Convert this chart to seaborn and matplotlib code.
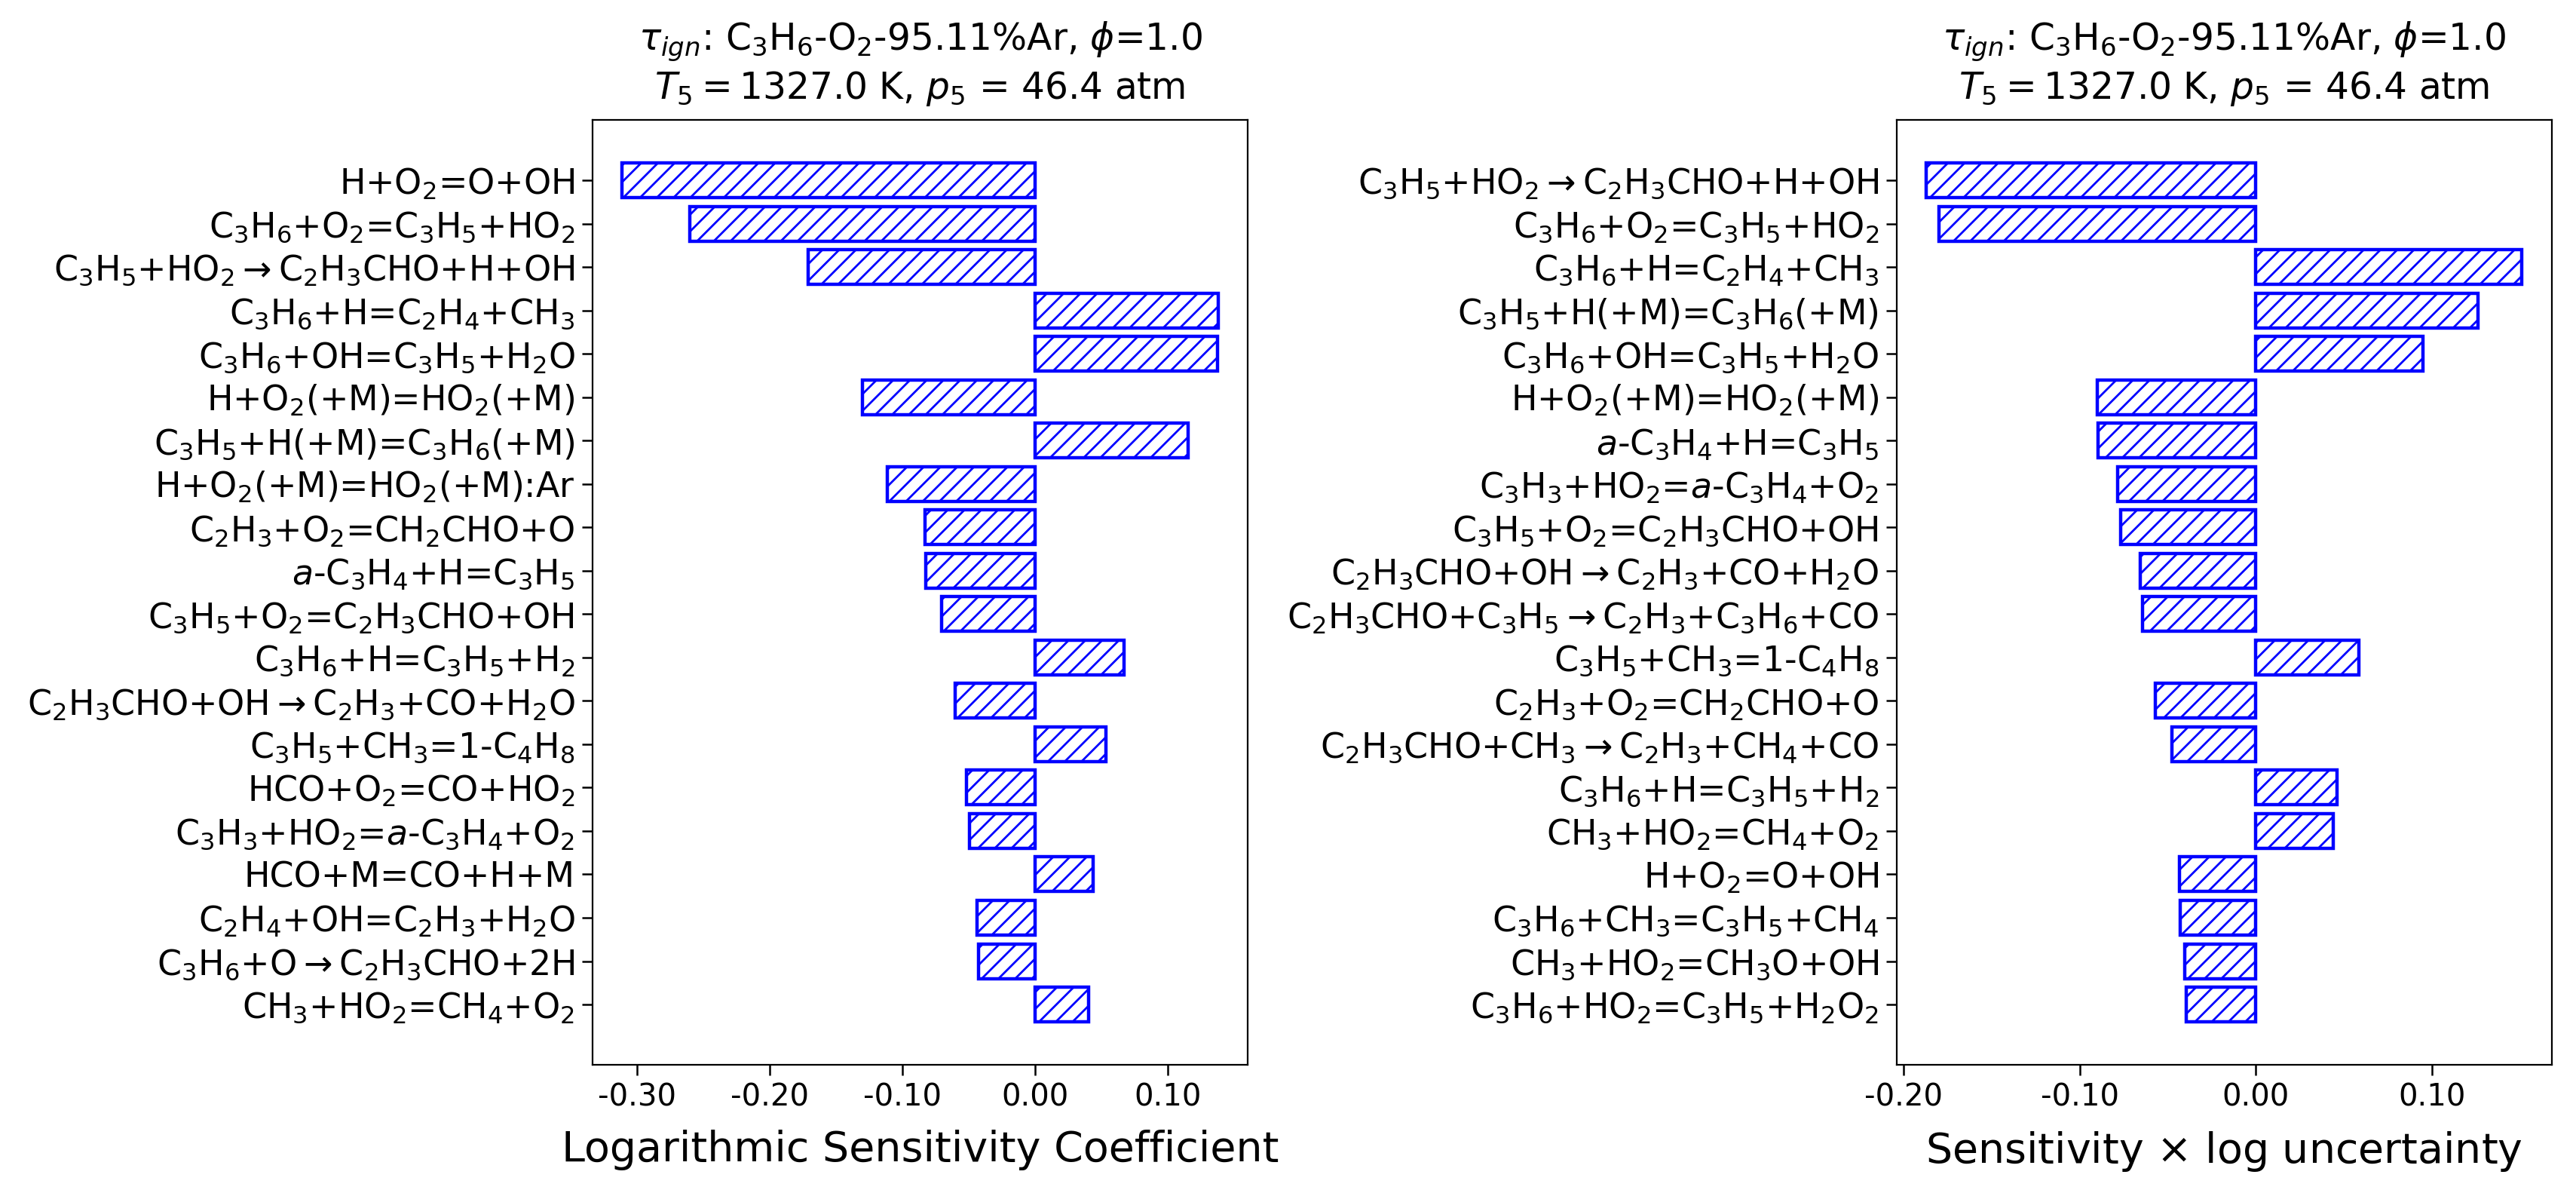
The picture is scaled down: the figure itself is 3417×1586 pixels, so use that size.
import numpy as np
import matplotlib
matplotlib.use("Agg")
import matplotlib.pyplot as plt
import seaborn as sns
from matplotlib.ticker import MultipleLocator, FormatStrFormatter

# Reacciones y coeficientes (panel izquierdo)
left_labels = [
    "H+O$_2$=O+OH",
    "C$_3$H$_6$+O$_2$=C$_3$H$_5$+HO$_2$",
    "C$_3$H$_5$+HO$_2$$\\rightarrow$C$_2$H$_3$CHO+H+OH",
    "C$_3$H$_6$+H=C$_2$H$_4$+CH$_3$",
    "C$_3$H$_6$+OH=C$_3$H$_5$+H$_2$O",
    "H+O$_2$(+M)=HO$_2$(+M)",
    "C$_3$H$_5$+H(+M)=C$_3$H$_6$(+M)",
    "H+O$_2$(+M)=HO$_2$(+M):Ar",
    "C$_2$H$_3$+O$_2$=CH$_2$CHO+O",
    "$a$-C$_3$H$_4$+H=C$_3$H$_5$",
    "C$_3$H$_5$+O$_2$=C$_2$H$_3$CHO+OH",
    "C$_3$H$_6$+H=C$_3$H$_5$+H$_2$",
    "C$_2$H$_3$CHO+OH$\\rightarrow$C$_2$H$_3$+CO+H$_2$O",
    "C$_3$H$_5$+CH$_3$=1-C$_4$H$_8$",
    "HCO+O$_2$=CO+HO$_2$",
    "C$_3$H$_3$+HO$_2$=$a$-C$_3$H$_4$+O$_2$",
    "HCO+M=CO+H+M",
    "C$_2$H$_4$+OH=C$_2$H$_3$+H$_2$O",
    "C$_3$H$_6$+O$\\rightarrow$C$_2$H$_3$CHO+2H",
    "CH$_3$+HO$_2$=CH$_4$+O$_2$",
]
left_values = [-0.311, -0.260, -0.171, 0.138, 0.1375, -0.130, 0.1153, -0.111,
               -0.0827, -0.0821, -0.0704, 0.0671, -0.0599, 0.0534, -0.0515,
               -0.0492, 0.0440, -0.0436, -0.0423, 0.0404]

# Panel derecho: sensibilidad x log incertidumbre
right_labels = [
    "C$_3$H$_5$+HO$_2$$\\rightarrow$C$_2$H$_3$CHO+H+OH",
    "C$_3$H$_6$+O$_2$=C$_3$H$_5$+HO$_2$",
    "C$_3$H$_6$+H=C$_2$H$_4$+CH$_3$",
    "C$_3$H$_5$+H(+M)=C$_3$H$_6$(+M)",
    "C$_3$H$_6$+OH=C$_3$H$_5$+H$_2$O",
    "H+O$_2$(+M)=HO$_2$(+M)",
    "$a$-C$_3$H$_4$+H=C$_3$H$_5$",
    "C$_3$H$_3$+HO$_2$=$a$-C$_3$H$_4$+O$_2$",
    "C$_3$H$_5$+O$_2$=C$_2$H$_3$CHO+OH",
    "C$_2$H$_3$CHO+OH$\\rightarrow$C$_2$H$_3$+CO+H$_2$O",
    "C$_2$H$_3$CHO+C$_3$H$_5$$\\rightarrow$C$_2$H$_3$+C$_3$H$_6$+CO",
    "C$_3$H$_5$+CH$_3$=1-C$_4$H$_8$",
    "C$_2$H$_3$+O$_2$=CH$_2$CHO+O",
    "C$_2$H$_3$CHO+CH$_3$$\\rightarrow$C$_2$H$_3$+CH$_4$+CO",
    "C$_3$H$_6$+H=C$_3$H$_5$+H$_2$",
    "CH$_3$+HO$_2$=CH$_4$+O$_2$",
    "H+O$_2$=O+OH",
    "C$_3$H$_6$+CH$_3$=C$_3$H$_5$+CH$_4$",
    "CH$_3$+HO$_2$=CH$_3$O+OH",
    "C$_3$H$_6$+HO$_2$=C$_3$H$_5$+H$_2$O$_2$",
]
right_values = [-0.1871, -0.1798, 0.1512, 0.1263, 0.0950, -0.0900, -0.0896,
                -0.0785, -0.0768, -0.0656, -0.0645, 0.0587, -0.0570, -0.0475,
                0.0462, 0.0440, -0.0435, -0.0428, -0.0405, -0.0393]

titulo = ("$\\tau_{ign}$: C$_3$H$_6$-O$_2$-95.11%Ar, $\\phi$=1.0\n"
          "$T_5=1327.0$ K, $p_5$ = 46.4 atm")

fig, axes = plt.subplots(1, 2, figsize=(17.085, 7.93), dpi=200)
plt.subplots_adjust(left=0.230, right=0.9906, bottom=0.1097, top=0.8997, wspace=0.99)

paneles = [
    (axes[0], left_labels, left_values, "Logarithmic Sensitivity Coefficient"),
    (axes[1], right_labels, right_values, "Sensitivity $\\times$ log uncertainty"),
]

for ax, labels, values, xlabel in paneles:
    sns.barplot(x=values, y=labels, orient="h", ax=ax, color="white",
                saturation=1, edgecolor="blue", linewidth=1.6, hatch="///")
    n = len(labels)
    # mismo margen que barh de matplotlib (5%)
    ax.set_ylim(n - 1 + 0.4 + 0.05 * (n - 0.2), -0.4 - 0.05 * (n - 0.2))
    ax.xaxis.set_major_locator(MultipleLocator(0.1))
    ax.xaxis.set_major_formatter(FormatStrFormatter("%.2f"))
    ax.tick_params(axis="y", labelsize=16.5, length=5, width=0.9)
    ax.tick_params(axis="x", labelsize=14.5, length=5, width=0.9)
    ax.set_xlabel(xlabel, fontsize=20, labelpad=8)
    ax.set_ylabel("")
    ax.set_title(titulo, fontsize=17.5, pad=10)

plt.savefig("out.png", dpi=200)
